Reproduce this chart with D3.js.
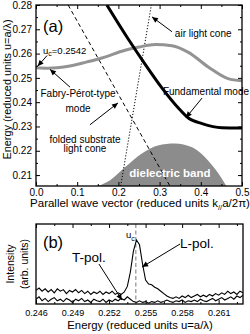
<!DOCTYPE html>
<html><head><meta charset="utf-8">
<script src="https://cdn.jsdelivr.net/npm/d3@7"></script>
<style>
html,body{margin:0;padding:0;background:#fff;}
svg{display:block;font-family:"Liberation Sans",Arial,Helvetica,sans-serif;}
</style></head><body>
<svg id="c" width="250" height="334"></svg>
<script>
// ---------- data: panel (a) ----------
const fpK = [0, 0.03, 0.075, 0.124, 0.16, 0.216, 0.25, 0.29, 0.33, 0.37, 0.418, 0.466, 0.5];
const fpE = [0.2542, 0.2540, 0.2547, 0.2566, 0.2582, 0.2614, 0.2627, 0.2637, 0.2632, 0.2605, 0.2545, 0.2497, 0.2488];
const fundK = [0.172, 0.223, 0.265, 0.306, 0.345, 0.369, 0.403, 0.451, 0.5];
const fundE = [0.280, 0.2662, 0.2556, 0.2458, 0.2377, 0.2336, 0.2312, 0.2295, 0.2294];
const bandK = [0.150, 0.180, 0.216, 0.257, 0.296, 0.337, 0.379, 0.417, 0.442, 0.462];
const bandE = [0.2055, 0.2079, 0.2132, 0.2189, 0.2222, 0.2230, 0.2214, 0.2161, 0.2108, 0.2055];
const airK = [0.2055, 0.28];
const airE = [0.2055, 0.28];
const subK = [0.078, 0.325];
const subE = [0.28, 0.2055];
const uc = 0.2542;
const xTicksA = [0, 0.1, 0.2, 0.3, 0.4, 0.5];
const yTicksA = [0.21, 0.22, 0.23, 0.24, 0.25, 0.26, 0.27, 0.28];

// ---------- data: panel (b) ----------
const energy = [0.24600,0.24625,0.24650,0.24675,0.24700,0.24725,0.24750,0.24775,0.24800,0.24825,
0.24850,0.24875,0.24900,0.24925,0.24950,0.24975,0.25000,0.25025,0.25050,0.25075,
0.25100,0.25125,0.25150,0.25175,0.25200,0.25225,0.25250,0.25275,0.25300,0.25325,
0.25350,0.25375,0.25400,0.25425,0.25450,0.25475,0.25500,0.25525,0.25550,0.25575,
0.25600,0.25625,0.25650,0.25675,0.25700,0.25725,0.25750,0.25775,0.25800,0.25825,
0.25850,0.25875,0.25900,0.25925,0.25950,0.25975,0.26000,0.26025,0.26050,0.26075,
0.26100,0.26125,0.26150,0.26175,0.26200,0.26225,0.26250,0.26275,0.26300];
const lPol = [0.17,0.20,0.16,0.19,0.15,0.18,0.14,0.19,0.16,0.18,
0.13,0.17,0.15,0.18,0.14,0.17,0.13,0.16,0.12,0.15,
0.13,0.16,0.12,0.15,0.13,0.16,0.12,0.14,0.12,0.15,
0.22,0.40,0.66,0.80,0.74,0.50,0.30,0.25,0.24,0.21,
0.19,0.16,0.13,0.10,0.08,0.07,0.09,0.07,0.10,0.08,
0.11,0.08,0.10,0.12,0.09,0.11,0.09,0.12,0.10,0.13,
0.11,0.14,0.12,0.16,0.13,0.15,0.12,0.16,0.14];
const tPol = [0.06,0.09,0.04,0.07,0.03,0.06,0.08,0.04,0.06,0.03,
0.07,0.05,0.02,0.06,0.04,0.07,0.03,0.05,0.02,0.06,
0.04,0.03,0.06,0.02,0.05,0.03,0.06,0.04,0.07,0.05,
0.09,0.06,0.03,0.02,0.04,0.02,0.03,0.01,0.03,0.02,
0.04,0.02,0.03,0.05,0.03,0.02,0.04,0.03,0.05,0.02,
0.04,0.03,0.05,0.03,0.06,0.04,0.03,0.05,0.07,0.04,
0.06,0.08,0.05,0.07,0.09,0.06,0.10,0.08,0.11];
const xTicksB = [0.246, 0.249, 0.252, 0.255, 0.258, 0.261];

// ---------- setup ----------
const svg = d3.select("#c");
const defs = svg.append("defs");
defs.append("marker").attr("id","ah").attr("viewBox","0 0 10 10")
  .attr("refX",10).attr("refY",5).attr("markerWidth",7).attr("markerHeight",6)
  .attr("markerUnits","userSpaceOnUse").attr("orient","auto")
  .append("path").attr("d","M0,0.5 L10,5 L0,9.5 z").attr("fill","#000");

const A = {l:36, r:242, t:5, b:186};
const B = {l:36, r:243, t:224, b:304};
const xA = d3.scaleLinear().domain([0,0.5]).range([A.l,A.r]);
const yA = d3.scaleLinear().domain([0.2055,0.28]).range([A.b,A.t]);
const xB = d3.scaleLinear().domain([0.246,0.263]).range([B.l,B.r]);
const yB = d3.scaleLinear().domain([0,1]).range([B.b,B.t]);

defs.append("clipPath").attr("id","clipA").append("rect")
  .attr("x",A.l).attr("y",A.t).attr("width",A.r-A.l).attr("height",A.b-A.t);
defs.append("clipPath").attr("id","clipB").append("rect")
  .attr("x",B.l).attr("y",B.t).attr("width",B.r-B.l).attr("height",B.b-B.t);

function axes(box, x, y, xMaj, xMin, yMaj, yMin, xFmt, yFmt, xPad, fs) {
  const g = svg.append("g");
  const style = sel => { sel.select(".domain").remove(); sel.selectAll("line").attr("stroke","#000"); sel.selectAll("text").attr("font-size",fs).attr("fill","#000").attr("font-family","Liberation Sans, Arial, sans-serif"); };
  g.append("g").attr("transform",`translate(0,${box.b})`)
    .call(d3.axisBottom(x).tickValues(xMaj).tickSize(-4).tickPadding(xPad).tickFormat(xFmt)).call(style);
  g.append("g").attr("transform",`translate(0,${box.b})`)
    .call(d3.axisBottom(x).tickValues(xMin).tickSize(-2).tickFormat("")).call(style);
  g.append("g").attr("transform",`translate(0,${box.t})`)
    .call(d3.axisTop(x).tickValues(xMaj).tickSize(-4).tickFormat("")).call(style);
  g.append("g").attr("transform",`translate(0,${box.t})`)
    .call(d3.axisTop(x).tickValues(xMin).tickSize(-2).tickFormat("")).call(style);
  if (yMaj) {
    g.append("g").attr("transform",`translate(${box.l},0)`)
      .call(d3.axisLeft(y).tickValues(yMaj).tickSize(-4).tickPadding(4).tickFormat(yFmt)).call(style);
    g.append("g").attr("transform",`translate(${box.l},0)`)
      .call(d3.axisLeft(y).tickValues(yMin).tickSize(-2).tickFormat("")).call(style);
    g.append("g").attr("transform",`translate(${box.r},0)`)
      .call(d3.axisRight(y).tickValues(yMaj).tickSize(-4).tickFormat("")).call(style);
    g.append("g").attr("transform",`translate(${box.r},0)`)
      .call(d3.axisRight(y).tickValues(yMin).tickSize(-2).tickFormat("")).call(style);
  }
  svg.append("rect").attr("x",box.l).attr("y",box.t).attr("width",box.r-box.l).attr("height",box.b-box.t)
    .attr("fill","none").attr("stroke","#000").attr("stroke-width",1.3);
}

// ---------- panel (a) ----------
const gA = svg.append("g").attr("clip-path","url(#clipA)");
const bandData = bandK.map((k,i)=>({k, e:bandE[i]}));
gA.append("path").datum(bandData)
  .attr("d", d3.area().x(d=>xA(d.k)).y0(A.b).y1(d=>yA(d.e)).curve(d3.curveMonotoneX))
  .attr("fill","#8c8c8c");
const lineA = d3.line().x(d=>xA(d.k)).y(d=>yA(d.e));
gA.append("path").datum(airK.map((k,i)=>({k,e:airE[i]}))).attr("d",lineA)
  .attr("fill","none").attr("stroke","#000").attr("stroke-width",1).attr("stroke-dasharray","1.2,1.8");
gA.append("path").datum(subK.map((k,i)=>({k,e:subE[i]}))).attr("d",lineA)
  .attr("fill","none").attr("stroke","#000").attr("stroke-width",1).attr("stroke-dasharray","4,3");
gA.append("path").datum(fpK.map((k,i)=>({k,e:fpE[i]}))).attr("d",d3.line().x(d=>xA(d.k)).y(d=>yA(d.e)).curve(d3.curveMonotoneX))
  .attr("fill","none").attr("stroke","#939393").attr("stroke-width",3);
gA.append("path").datum(fundK.map((k,i)=>({k,e:fundE[i]}))).attr("d",d3.line().x(d=>xA(d.k)).y(d=>yA(d.e)).curve(d3.curveMonotoneX))
  .attr("fill","none").attr("stroke","#000").attr("stroke-width",3);

axes(A, xA, yA, xTicksA, [0.05,0.15,0.25,0.35,0.45],
  yTicksA, [0.21,0.215,0.225,0.235,0.245,0.255,0.265,0.275],
  d3.format(".1f"), d3.format(".2f"), 3, 10);

// axis titles (a)
svg.append("text").attr("transform",`translate(11,${(A.t+A.b)/2 - 6}) rotate(-90)`)
  .attr("text-anchor","middle").attr("font-size",10.9).text("Energy (reduced units u=a/λ)");
const xtA = svg.append("text").attr("x",140).attr("y",207).attr("text-anchor","middle").attr("font-size",11.5);
xtA.append("tspan").text("Parallel wave vector (reduced units k");
xtA.append("tspan").attr("dy",3).attr("font-size",7.5).text("//");
xtA.append("tspan").attr("dy",-3).text("a/2π)");

// annotations (a)
function arrow(x1,y1,x2,y2){
  svg.append("line").attr("x1",x1).attr("y1",y1).attr("x2",x2).attr("y2",y2)
    .attr("stroke","#000").attr("stroke-width",1).attr("marker-end","url(#ah)");
}
function label(x,y,t,fs,anchor){
  return svg.append("text").attr("x",x).attr("y",y).attr("font-size",fs).attr("text-anchor",anchor||"start").text(t);
}
label(xA(0.017), yA(0.2690), "(a)", 16.5);
const ucT = svg.append("text").attr("x",xA(0.017)).attr("y",yA(0.2600)).attr("font-size",9.5);
ucT.append("tspan").text("u");
ucT.append("tspan").attr("dy",2.5).attr("font-size",7).text("c");
ucT.append("tspan").attr("dy",-2.5).text("=0.2542");
arrow(xA(0.027), yA(0.2592), xA(0.004), yA(0.2548));
label(xA(0.102), yA(0.2421), "Fabry-Pérot-type", 10, "middle");
label(xA(0.102), yA(0.2361), "mode", 10, "middle");
arrow(xA(0.0825), yA(0.2462), xA(0.034), yA(0.2535));
label(xA(0.119), yA(0.2234), "folded substrate", 10, "middle");
label(xA(0.119), yA(0.2193), "light cone", 10, "middle");
arrow(xA(0.131), yA(0.2307), xA(0.199), yA(0.2397));
label(xA(0.337), yA(0.2670), "air light cone", 10);
arrow(xA(0.330), yA(0.2690), xA(0.2816), yA(0.2751));
label(xA(0.308), yA(0.2429), "Fundamental mode", 10);
arrow(xA(0.403), yA(0.2417), xA(0.364), yA(0.2336));
label(xA(0.325), yA(0.2092), "dielectric band", 11.5, "middle").attr("fill","#fff").attr("font-weight","bold");

// ---------- panel (b) ----------
const gB = svg.append("g").attr("clip-path","url(#clipB)");
gB.append("line").attr("x1",xB(uc)).attr("x2",xB(uc)).attr("y1",B.t).attr("y2",B.b)
  .attr("stroke","#777").attr("stroke-width",1).attr("stroke-dasharray","4,2.5");
const lineB = d3.line().x((d,i)=>xB(energy[i])).y(d=>yB(d));
gB.append("path").datum(lPol).attr("d",lineB).attr("fill","none").attr("stroke","#000").attr("stroke-width",1.1);
gB.append("path").datum(tPol).attr("d",lineB).attr("fill","none").attr("stroke","#000").attr("stroke-width",1.1);

axes(B, xB, yB, xTicksB, [0.2475,0.2505,0.2535,0.2565,0.2595,0.2625],
  null, null, d3.format(".3f"), null, 5.5, 9);

svg.append("text").attr("x",140).attr("y",329).attr("text-anchor","middle").attr("font-size",11.3)
  .text("Energy (reduced units u=a/λ)");
svg.append("text").attr("transform",`translate(14,${(B.t+B.b)/2}) rotate(-90)`)
  .attr("text-anchor","middle").attr("font-size",10.5).text("Intensity");
svg.append("text").attr("transform",`translate(28,${(B.t+B.b)/2}) rotate(-90)`)
  .attr("text-anchor","middle").attr("font-size",10.5).text("(arb. units)");

label(xB(0.24657), yB(0.70), "(b)", 16.5);
const ucB = svg.append("text").attr("x",xB(0.25339)).attr("y",yB(0.82)).attr("font-size",9.5);
ucB.append("tspan").text("u");
ucB.append("tspan").attr("dy",2.5).attr("font-size",7).text("c");
label(xB(0.25783), yB(0.70), "L-pol.", 13.5);
arrow(xB(0.25783), yB(0.75), xB(0.25471), yB(0.4625));
label(xB(0.24896), yB(0.525), "T-pol.", 13.5);
arrow(xB(0.25117), yB(0.50), xB(0.25306), yB(0.05));
</script>
</body></html>
